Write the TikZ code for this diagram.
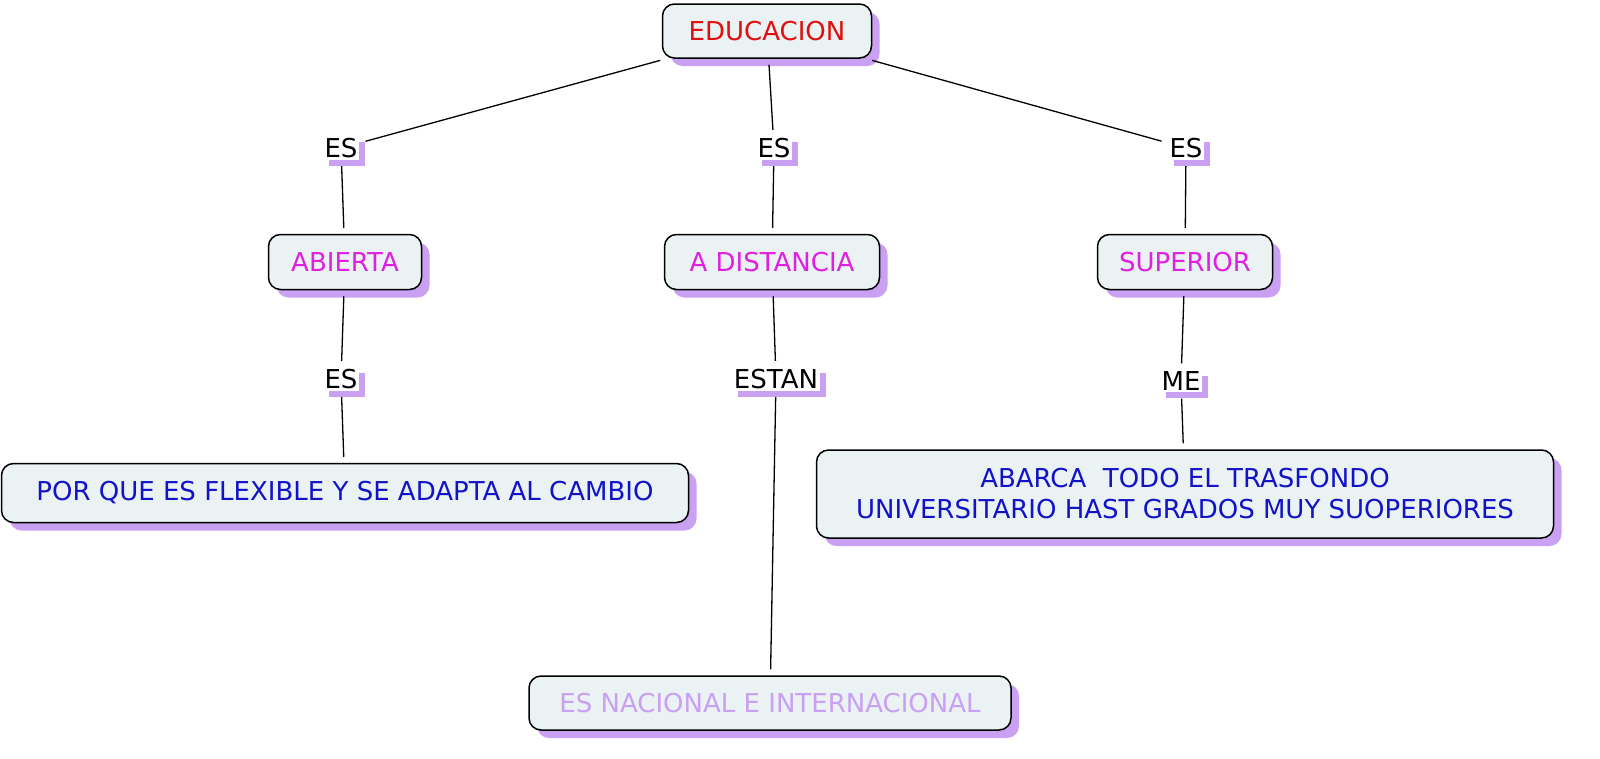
\documentclass[tikz,border=0pt]{standalone}
\usepackage{fontspec}
\setmainfont{DejaVu Sans}
\usetikzlibrary{shadows}
\definecolor{lav}{HTML}{C9A0F2}
\definecolor{boxfill}{HTML}{EAF2F4}
\definecolor{cred}{HTML}{E01010}
\definecolor{cmag}{HTML}{E020E0}
\definecolor{cblue}{HTML}{1212C8}
\tikzset{
 concept/.style={draw=black, line width=1.5pt, rounded corners=12pt, fill=boxfill,
   drop shadow={shadow xshift=8pt, shadow yshift=-8pt, fill=lav, opacity=1},
   font=\fontsize{26}{31}\selectfont, align=center, inner sep=0pt},
 lab/.style={fill=white, inner sep=2pt, font=\fontsize{26}{31}\selectfont,
   drop shadow={shadow xshift=6pt, shadow yshift=-6pt, fill=lav, opacity=1}},
 conn/.style={line width=1.3pt, black, shorten >=6pt, shorten <=6pt}
}
\begin{document}
\begin{tikzpicture}[x=1pt,y=-1pt]
\node[concept, minimum width=209, minimum height=54, text=cred] (edu) at (767,31) {EDUCACION};
\node[concept, minimum width=153, minimum height=55, text=cmag] (abi) at (345,262) {ABIERTA};
\node[concept, minimum width=215, minimum height=55, text=cmag] (dis) at (772,262) {A DISTANCIA};
\node[concept, minimum width=175, minimum height=55, text=cmag] (sup) at (1185,262) {SUPERIOR};
\node[concept, minimum width=687, minimum height=59, text=cblue] (por) at (345,493) {POR QUE ES FLEXIBLE Y SE ADAPTA AL CAMBIO};
\node[concept, minimum width=737, minimum height=88, text=cblue] (aba) at (1185,494) {ABARCA\ \ TODO EL TRASFONDO\\UNIVERSITARIO HAST GRADOS MUY SUOPERIORES};
\node[concept, minimum width=482, minimum height=54, text=lav] (nac) at (770,703) {ES NACIONAL E INTERNACIONAL};
\node[lab] (l1) at (341,148) {ES};
\node[lab] (l2) at (774,148) {ES};
\node[lab] (l3) at (1186,148) {ES};
\node[lab] (l4) at (341,379) {ES};
\node[lab] (l5) at (776,379) {ESTAN};
\node[lab] (l6) at (1181,381) {ME};
\draw[conn] (edu) -- (l1); \draw[conn] (l1) -- (abi);
\draw[conn] (edu) -- (l2); \draw[conn] (l2) -- (dis);
\draw[conn] (edu) -- (l3); \draw[conn] (l3) -- (sup);
\draw[conn] (abi) -- (l4); \draw[conn] (l4) -- (por);
\draw[conn] (dis) -- (l5); \draw[conn] (l5) -- (nac);
\draw[conn] (sup) -- (l6); \draw[conn] (l6) -- (aba);
\pgfresetboundingbox
\useasboundingbox (0,0) rectangle (1600,758);
\end{tikzpicture}
\end{document}
